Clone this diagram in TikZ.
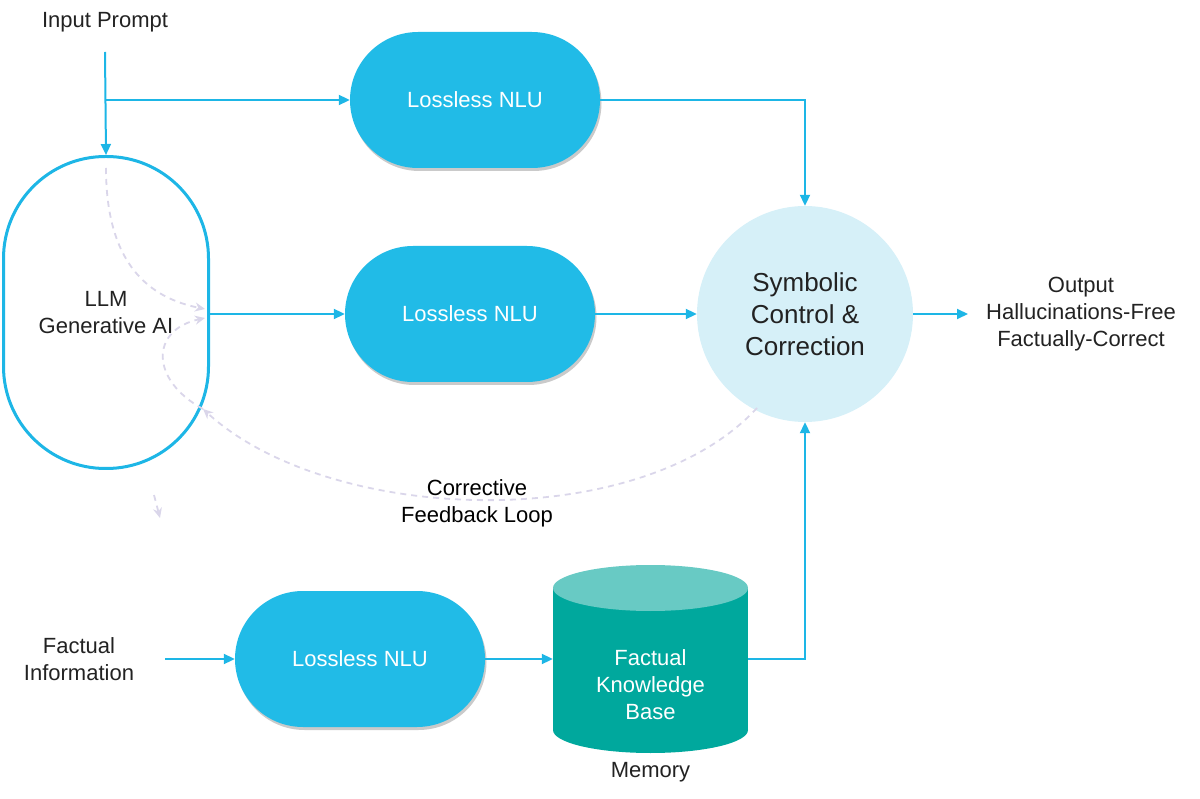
\documentclass[tikz,border=0pt]{standalone}
\usepackage{fontspec}
\setmainfont{Liberation Sans}
\usetikzlibrary{arrows.meta,shadows,calc}
\definecolor{lineblue}{HTML}{1DB6E6}
\definecolor{nlublue}{HTML}{21BBE7}
\definecolor{circfill}{HTML}{D6F0F8}
\definecolor{tealbody}{HTML}{00A89D}
\definecolor{tealtop}{HTML}{68CAC4}
\definecolor{dashcol}{HTML}{DAD6EA}
\definecolor{txt}{HTML}{222222}
\tikzset{
  arr/.style={draw=lineblue, line width=2pt, -{Triangle[length=11pt,width=10pt]}},
  fb/.style={draw=dashcol, line width=1.8pt, dash pattern=on 6pt off 5pt, -{Stealth[length=10pt,width=9pt]}},
  nlu/.style={fill=nlublue, rounded corners=68pt, minimum width=250pt, minimum height=136pt, inner sep=0pt,
    text=white, font=\fontsize{22}{27}\selectfont,
    drop shadow={shadow xshift=1.5pt, shadow yshift=-3pt, opacity=0.35, fill=black!60}},
  lbl/.style={text=txt, align=center, font=\fontsize{22}{27}\selectfont, inner sep=0pt},
}
\begin{document}
\begin{tikzpicture}[x=1pt,y=-1pt]
\useasboundingbox (0,0) rectangle (1200,799);
% nodes
\node[lbl] (ip) at (105,22) {Input Prompt};
\coordinate (ips) at (105,52);
\coordinate (j1) at (105,100);
\node[draw=lineblue, line width=3pt, fill=white, minimum width=205pt, minimum height=312pt,
  rounded corners=102pt, inner sep=0pt, align=center, text=txt, font=\fontsize{22}{27}\selectfont]
  (llm) at (106,312.5) {LLM\\Generative AI};
\node[nlu] (nlu1) at (475,100) {Lossless NLU};
\node[nlu] (nlu2) at (470,314) {Lossless NLU};
\node[nlu] (nlu3) at (360,659) {Lossless NLU};
\node[circle, fill=circfill, minimum size=216pt, inner sep=0pt, align=center, text=txt,
  font=\fontsize{26}{32}\selectfont] (sc) at (805,314) {Symbolic\\Control \&\\Correction};
\node[lbl] (out) at (1081,314) {Output\\Hallucinations-Free\\Factually-Correct};
\coordinate (outarr) at (968,314);
\node[lbl] (fi) at (79,659.5) {Factual\\Information};
\coordinate (fis) at (165,659);
\node[lbl, text=black] (cf) at (477,503.5) {Corrective\\Feedback Loop};
% cylinder
\fill[tealbody] (553,588) rectangle (748,730);
\fill[tealbody] (650.5,730) ellipse [x radius=97.5, y radius=23];
\fill[tealtop] (650.5,588) ellipse [x radius=97.5, y radius=23];
\node[minimum width=195pt, minimum height=1pt, inner sep=0pt] (kb) at (650.5,659) {};
\node[lbl, text=white] (kbt) at (650.5,685) {Factual\\Knowledge\\Base};
\node[lbl] (mem) at (650.5,772) {Memory};
% connectors
\draw[arr] (ips) -- (llm.north);
\draw[arr] (j1) -- (nlu1.west);
\draw[arr] (llm.east |- nlu2.west) -- (nlu2.west);
\draw[arr] (nlu1.east) -| (sc.north);
\draw[arr] (nlu2.east) -- (sc.west);
\draw[arr] (sc.east) -- (outarr);
\draw[arr] (nlu3.east) -- (kb.west);
\draw[arr] (kb.east) -| (sc.south);
\draw[arr] (fis) -- (nlu3.west);
% dashed feedback curves
\coordinate (fbs) at (757,408);
\coordinate (fbe) at (203,409);
\coordinate (g1) at (106,168);
\coordinate (g2) at (205,309);
\coordinate (g3) at (205,318);
\coordinate (s1) at (154,495);
\coordinate (s2) at (160,518);
\draw[fb] (fbs) .. controls (640,535) and (330,525) .. (fbe);
\draw[fb] (g1) .. controls (106,265) and (150,298) .. (g2);
\draw[fb] (fbe) .. controls (150,380) and (150,330) .. (g3);
\draw[fb] (s1) -- (s2);
\end{tikzpicture}
\end{document}
